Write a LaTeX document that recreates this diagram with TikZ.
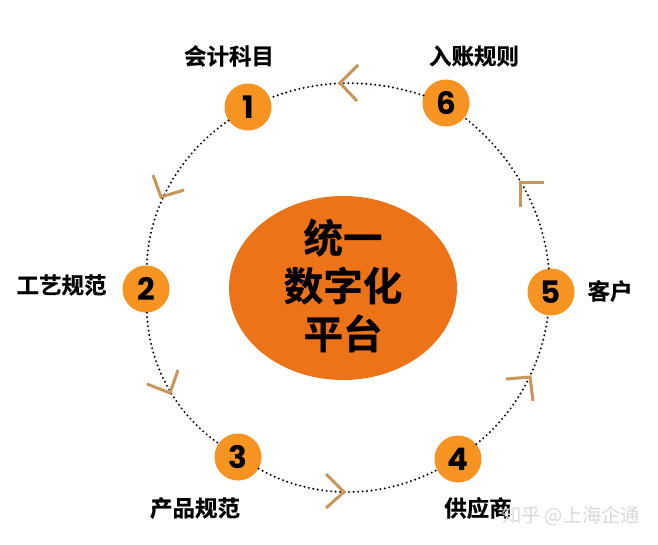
\documentclass[tikz,border=0pt]{standalone}
\usetikzlibrary{shapes.geometric}
\usepackage{fontspec}
\setmainfont{Noto Sans CJK SC}[BoldFont={Noto Sans CJK SC Bold},BoldFeatures={FakeBold=0.6}]
\newfontfamily\digitfont{Poppins}[BoldFont={Poppins Bold}]
\definecolor{core}{HTML}{EC7318}
\definecolor{badge}{HTML}{F79421}
\definecolor{chev}{HTML}{C8965A}
\definecolor{wm}{HTML}{D9D9D9}
\tikzset{
  badgenode/.style={circle,fill=badge,minimum size=47pt,inner sep=0pt,font=\digitfont\bfseries\fontsize{31}{31}\selectfont,text=black},
  lbl/.style={font=\bfseries\fontsize{22.5}{24}\selectfont,text=black,inner sep=0pt},
  ring/.style={line width=2.2pt,line cap=round,dash pattern=on 0pt off 4.5pt,black},
  chevron/.style={line width=3pt,chev,line join=miter},
}
% dotted arc of the ring (centre 345.5,288; radius 204.5) from node #1 at angle #3 to node #2 at angle #4
\newcommand\ringlink[4]{%
  \pgfmathsetmacro\rlA{#3+6.6}%
  \pgfmathsetmacro\rlB{#4-6.6}%
  \pgfmathsetmacro\rlPhi{atan(4/3*tan((\rlB-\rlA)/4))}%
  \pgfmathsetmacro\rlR{204.5/cos(\rlPhi)}%
  \pgfmathsetmacro\rlCx{345.5+\rlR*cos(\rlA+\rlPhi)}%
  \pgfmathsetmacro\rlCy{288-\rlR*sin(\rlA+\rlPhi)}%
  \pgfmathsetmacro\rlDx{345.5+\rlR*cos(\rlB-\rlPhi)}%
  \pgfmathsetmacro\rlDy{288-\rlR*sin(\rlB-\rlPhi)}%
  \draw[ring] (#1) .. controls (\rlCx,\rlCy) and (\rlDx,\rlDy) .. (#2);%
}
\begin{document}
\begin{tikzpicture}[x=1pt,y=-1pt]
\useasboundingbox (0,0) rectangle (658,544);
\fill[white] (0,0) rectangle (658,544);
\node[ellipse,fill=core,minimum width=228pt,minimum height=184pt,inner sep=0pt] (core) at (343,288) {};
\node[align=center,font=\bfseries\fontsize{39.5}{48}\selectfont,text=black,inner sep=0pt] (coretext) at (343,285.5) {统一\\数字化\\平台};
\node[badgenode] (n1) at (248,107) {1};
\node[badgenode] (n2) at (146,289) {2};
\node[badgenode] (n3) at (238,457) {3};
\node[badgenode] (n4) at (458,459) {4};
\node[badgenode] (n5) at (551,292) {5};
\node[badgenode] (n6) at (446,103) {6};
\ringlink{n6}{n1}{61.5}{118.3}
\ringlink{n1}{n2}{118.3}{180.3}
\ringlink{n2}{n3}{180.3}{237.5}
\ringlink{n3}{n4}{237.5}{303.3}
\ringlink{n4}{n5}{303.3}{358.9}
\ringlink{n5}{n6}{358.9}{421.5}
\draw[chevron] (358,65) -- (340,83) -- (357,101);
\draw[chevron] (153,175) -- (161,197) -- (184,190);
\draw[chevron] (147,384) -- (170,393) -- (178,370);
\draw[chevron] (326,474) -- (344,492) -- (326,508);
\draw[chevron] (506,379) -- (530,377) -- (533,401);
\draw[chevron] (544,182) -- (520,182) -- (520,207);
\node[lbl] (l1) at (229,56) {会计科目};
\node[lbl] (l2) at (61.5,285) {工艺规范};
\node[lbl] (l3) at (195,508) {产品规范};
\node[lbl] (l4) at (478,508) {供应商};
\node[lbl] (l5) at (610,291) {客户};
\node[lbl] (l6) at (474,56) {入账规则};
\node[font=\fontsize{19.2}{20}\selectfont,text=wm,inner sep=0pt] (wmark) at (571,516) {知乎 @上海企通};
\end{tikzpicture}
\end{document}
